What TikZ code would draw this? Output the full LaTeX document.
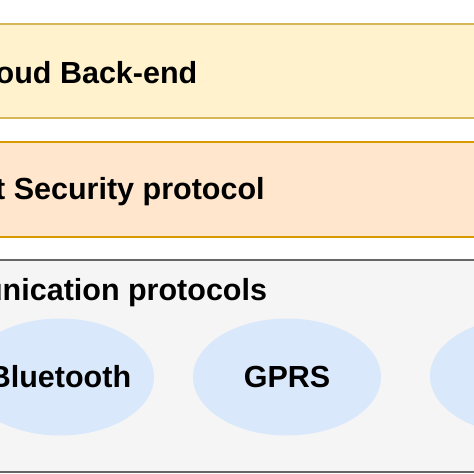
\documentclass[tikz,border=0pt]{standalone}
\usepackage{fontspec}
\setmainfont{Liberation Sans}
\usepackage{tikz}
\usetikzlibrary{calc,shapes.geometric}
\definecolor{cloudfill}{HTML}{FFF2CC}
\definecolor{clouddraw}{HTML}{D6B656}
\definecolor{secfill}{HTML}{FFE6CC}
\definecolor{secdraw}{HTML}{D79B00}
\definecolor{commfill}{HTML}{F5F5F5}
\definecolor{commdraw}{HTML}{666666}
\definecolor{protofill}{HTML}{DAE8FC}
\tikzset{
	bandtext/.style={anchor=base west, inner sep=0pt, font=\fontsize{30.5}{36}\selectfont\bfseries},
	proto/.style={ellipse, fill=protofill, minimum width=188pt, minimum height=117pt, inner xsep=-20pt, inner ysep=0pt, font=\fontsize{30.5}{36}\selectfont\bfseries}
}
\begin{document}
\begin{tikzpicture}[x=1pt,y=-1pt]
	\useasboundingbox (0,0) rectangle (474,474);
	\clip (0,0) rectangle (474,474);
	\pgfmathsetmacro{\bandl}{-10}
	\pgfmathsetmacro{\bandr}{484}
	\draw[draw=clouddraw, fill=cloudfill, line width=2pt] (\bandl,24) rectangle (\bandr,118);
	\draw[draw=secdraw, fill=secfill, line width=2pt] (\bandl,142) rectangle (\bandr,237);
	\draw[draw=commdraw, fill=commfill, line width=2pt] (\bandl,260) rectangle (\bandr,472);
	\node[bandtext] (cloud) at (-35,83) {Cloud Back-end};
	\node[bandtext] (sec) at (-5,199) {t Security protocol};
	\node[bandtext] (comm) at (-111,300) {Communication protocols};
	\node[proto] (bt) at (60,377) {Bluetooth};
	\node[proto] (gprs) at (287,377) {GPRS};
	\node[proto] (third) at (524,376) {};
\end{tikzpicture}
\end{document}
